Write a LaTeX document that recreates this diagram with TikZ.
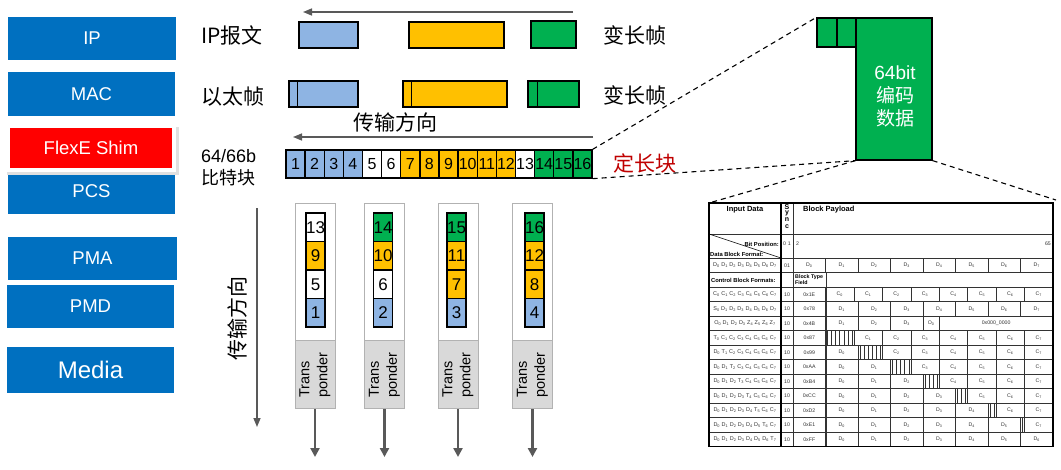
\documentclass[tikz,border=0pt]{standalone}
\usepackage{fontspec}
\setmainfont{Liberation Sans}
\newfontfamily\cjk{Noto Sans CJK SC}
\usetikzlibrary{arrows.meta}
\definecolor{stackblue}{HTML}{0070C0}
\definecolor{lblue}{HTML}{8EB4E3}
\definecolor{ylw}{HTML}{FFC000}
\definecolor{grn}{HTML}{00B050}
\definecolor{dred}{HTML}{C00000}
\definecolor{arrgray}{HTML}{595959}
\definecolor{tpgray}{HTML}{D9D9D9}
\newcommand\xs[2]{#1\textsubscript{#2}}
\newcommand\prow[3]{%
  \xdef\curbit{0}%
  \foreach \nb/\lab/\hh in {#3}{%
    \pgfmathsetmacro\xa{793+\curbit*4.0625}%
    \pgfmathsetmacro\xb{793+(\curbit+\nb)*4.0625}%
    \ifnum\hh=1
      \foreach \k in {1,...,\nb}{\draw[tline] ({\xa+(\k-0.5)*4.0625},#1) -- ({\xa+(\k-0.5)*4.0625},#2);}%
    \else
      \node[tcell] at ({(\xa+\xb)/2},{(#1+#2)/2}) {\lab};%
    \fi
    \draw[tline] (\xb,#1) -- (\xb,#2);%
    \pgfmathsetmacro\tmp{\curbit+\nb}\xdef\curbit{\tmp}%
  }}
\begin{document}
\begin{tikzpicture}[x=1pt,y=-1pt,
  layer/.style={fill=stackblue, text=white, inner sep=0pt, font=\fontsize{18.5}{20}\selectfont},
  cjkt/.style={font=\cjk\fontsize{21}{24}\selectfont, inner sep=0pt},
  fbox/.style={draw=black, line width=1.3pt, inner sep=0pt},
  blk/.style={draw=black, line width=1.3pt, inner sep=0pt, font=\fontsize{16}{16}\selectfont, minimum width=19.125pt, minimum height=28pt},
  tpc/.style={draw=black, line width=1.5pt, inner sep=0pt, font=\fontsize{17}{17}\selectfont, minimum width=19pt, minimum height=28.5pt},
  flow/.style={draw=arrgray, line width=1.5pt, -{Triangle[length=9pt,width=7pt]}},
  bigflow/.style={draw=arrgray, line width=2.5pt, -{Triangle[length=9pt,width=9pt]}},
  zoomline/.style={draw=black, line width=1.1pt, dash pattern=on 5pt off 4pt},
  tline/.style={draw=black!80, line width=0.5pt},
  tcell/.style={inner sep=0pt, font=\fontsize{5.2}{5.7}\selectfont, text=black!80},
  tin/.style={inner sep=0pt, font=\fontsize{5.5}{6}\selectfont, text=black!80},
  thead/.style={inner sep=0pt, font=\bfseries\fontsize{7.5}{8}\selectfont},
  tbold/.style={inner sep=0pt, font=\bfseries\fontsize{5.8}{6.2}\selectfont, align=left},
  syncl/.style={inner sep=0pt, font=\bfseries\fontsize{7}{7}\selectfont},
]
\useasboundingbox (0,0) rectangle (1061,469);
\fill[white] (0,0) rectangle (1061,469);

% ---------- left protocol stack ----------
\node[layer, minimum width=168pt, minimum height=43pt] (ip) at (92,38.5) {IP};
\node[layer, minimum width=167pt, minimum height=44pt] (mac) at (91.5,94) {MAC};
\node[layer, minimum width=167pt, minimum height=46pt] (pcs) at (91.5,191) {PCS};
\fill[black!12] (7,127) rectangle (179,175);
\fill[white] (5,125) rectangle (176,172);
\node[layer, fill=red, minimum width=162pt, minimum height=40pt] (shim) at (91,148) {FlexE Shim};
\node[layer, minimum width=169pt, minimum height=43pt] (pma) at (92.5,258.5) {PMA};
\node[layer, minimum width=167pt, minimum height=43pt] (pmd) at (90.5,306.5) {PMD};
\node[layer, minimum width=167pt, minimum height=46pt, font=\fontsize{24}{26}\selectfont] (media) at (90.5,370) {Media};

% ---------- IP packets ----------
\coordinate (a1s) at (573,12);
\coordinate (a1e) at (303,12);
\draw[flow] (a1s) -- (a1e);
\node[cjkt, anchor=west] (iplbl) at (201,35) {IP报文};
\node[fbox, fill=lblue, minimum width=59pt, minimum height=26pt] (p1) at (328.5,35) {};
\node[fbox, fill=ylw, minimum width=95pt, minimum height=26pt] (p2) at (456.5,35) {};
\node[fbox, fill=grn, minimum width=45pt, minimum height=27pt] (p3) at (553.5,34.5) {};
\node[cjkt, anchor=west] (var1) at (603,35) {变长帧};

% ---------- Ethernet frames ----------
\node[cjkt, anchor=west] (ethlbl) at (201,97) {以太帧};
\node[fbox, fill=lblue, minimum width=69pt, minimum height=26pt] (e1) at (323.5,94) {};
\draw[line width=1.3pt] ([xshift=9pt]e1.north west) -- ([xshift=9pt]e1.south west);
\node[fbox, fill=ylw, minimum width=104pt, minimum height=26pt] (e2) at (455,94) {};
\draw[line width=1.3pt] ([xshift=9pt]e2.north west) -- ([xshift=9pt]e2.south west);
\node[fbox, fill=grn, minimum width=51pt, minimum height=26pt] (e3) at (553.5,94) {};
\draw[line width=1.3pt] ([xshift=10pt]e3.north west) -- ([xshift=10pt]e3.south west);
\node[cjkt, anchor=west] (var2) at (603,95) {变长帧};

\node[cjkt] (dir1) at (395,122) {传输方向};
\coordinate (a2s) at (593,137);
\coordinate (a2e) at (293,137);
\draw[flow] (a2s) -- (a2e);

% ---------- 64/66b blocks ----------
\node[inner sep=0pt, anchor=west, font=\fontsize{18}{18}\selectfont] (l6466) at (201,156) {64/66b};
\node[inner sep=0pt, anchor=west, font=\cjk\fontsize{18}{18}\selectfont] (lbit) at (201,177.5) {比特块};
\foreach \i/\c in {1/lblue,2/lblue,3/lblue,4/lblue,5/white,6/white,7/ylw,8/ylw,9/ylw,10/ylw,11/ylw,12/ylw,13/white,14/grn,15/grn,16/grn}
  \node[blk, fill=\c] (b\i) at ({286+(\i-0.5)*19.125},164) {\i};
\node[cjkt, text=dred] (fixed) at (645,163) {定长块};

% ---------- zoomed 66b block ----------
\node[draw=black, line width=1.3pt, fill=grn, minimum width=76pt, minimum height=142pt, inner sep=0pt] (big) at (894,89) {};
\node[draw=black, line width=1.3pt, fill=grn, minimum width=20pt, minimum height=29pt, inner sep=0pt] (sm1) at (827,32.5) {};
\node[draw=black, line width=1.3pt, fill=grn, minimum width=19pt, minimum height=29pt, inner sep=0pt] (sm2) at (846.5,32.5) {};
\node[text=white, align=center, inner sep=0pt, font=\fontsize{19}{23}\selectfont] (bigtxt) at (895,96) {64bit\\{\cjk 编码}\\{\cjk 数据}};

\coordinate (tbltl) at (709,203);
\coordinate (tbltr) at (1056,200);
\draw[zoomline] (b16.north east) -- (sm1.north west);
\draw[zoomline] (b16.south east) -- (big.south west);
\draw[zoomline] (big.south west) -- (tbltl);
\draw[zoomline] (big.south east) -- (tbltr);

% ---------- vertical direction ----------
\coordinate (vs) at (257,208);
\coordinate (ve) at (257,427);
\draw[flow] (vs) -- (ve);
\node[cjkt, rotate=90] (dir2) at (237,318) {传输方向};

% ---------- transponders ----------
\foreach \k/\x/\cx/\va/\ca/\vb/\cb/\vc/\cc/\vd/\cd in {1/315/315.5/13/white/9/ylw/5/white/1/lblue, 2/384.5/383/14/grn/10/ylw/6/white/2/lblue, 3/458/456.5/15/grn/11/ylw/7/ylw/3/lblue, 4/532.5/534.5/16/grn/12/ylw/8/ylw/4/lblue}{
  \node[draw=black!30, line width=0.8pt, fill=white, minimum width=40pt, minimum height=137pt, inner sep=0pt] (tb\k) at (\x,271.5) {};
  \node[draw=black!30, line width=0.8pt, fill=tpgray, minimum width=40pt, minimum height=68pt, inner sep=0pt, anchor=north] (tg\k) at (tb\k.south) {};
  \node[inner sep=0pt, rotate=90, align=left, font=\fontsize{14.5}{18}\selectfont] (tt\k) at (tg\k.center) {Trans\\ponder};
  \node[tpc, fill=\ca] (ca\k) at (\cx,227.25) {\va};
  \node[tpc, fill=\cb] (cb\k) at (\cx,255.75) {\vb};
  \node[tpc, fill=\cc] (cc\k) at (\cx,284.25) {\vc};
  \node[tpc, fill=\cd] (cd\k) at (\cx,312.75) {\vd};
  \coordinate (out\k) at (\x,457);
  \draw[bigflow] (tg\k.south) -- (out\k);
}

% ---------- 64b/66b block format table ----------
\fill[white] (709,203) rectangle (1053,446.5);
\foreach \yy in {234,258,272.5,287,301.5,316,330.5,345,359.5,374,388.5,403,417.5,432}
  \draw[tline, line width=0.7pt] (709,\yy) -- (1053,\yy);
\draw[tline] (793,203) -- (793,446.5);
\draw[tline] (826,272.5) -- (826,446.5);
\draw[black, line width=0.6pt] (709,234) -- (781,258);
% header
\node[thead] at (745,210) {Input Data};
\node[thead, anchor=west] at (803,210) {Block Payload};
\node[syncl] at (787,207) {S};
\node[syncl] at (787,213.5) {y};
\node[syncl] at (787,220) {n};
\node[syncl] at (787,226.5) {c};
% bit position
\node[tbold, anchor=east] at (779,244) {Bit Position:};
\node[tbold, anchor=west] at (710,254) {Data Block Format:};
\node[tcell] at (787,244) {0\,\,1};
\node[tcell, anchor=west] at (796,244) {2};
\node[tcell, anchor=east] at (1051,244) {65};
% data row
\node[tin] at (745,265.25) {\xs D0 \xs D1 \xs D2 \xs D3 \xs D4 \xs D5 \xs D6 \xs D7};
\node[tcell] at (787,265.25) {01};
\prow{258}{272.5}{8/\xs D0/0,8/\xs D1/0,8/\xs D2/0,8/\xs D3/0,8/\xs D4/0,8/\xs D5/0,8/\xs D6/0,8/\xs D7/0}
% control label row
\node[tbold, anchor=west] at (711,280) {Control Block Formats:};
\node[tbold, anchor=west, font=\bfseries\fontsize{5.3}{5.8}\selectfont] at (795,279.75) {Block Type\\Field};
% control rows
\node[tin] at (745,294.25) {\xs C0 \xs C1 \xs C2 \xs C3 \xs C4 \xs C5 \xs C6 \xs C7};
\node[tcell] at (787,294.25) {10};
\prow{287}{301.5}{8/0x1E/0,7/\xs C0/0,7/\xs C1/0,7/\xs C2/0,7/\xs C3/0,7/\xs C4/0,7/\xs C5/0,7/\xs C6/0,7/\xs C7/0}
\node[tin] at (745,308.75) {\xs S0 \xs D1 \xs D2 \xs D3 \xs D4 \xs D5 \xs D6 \xs D7};
\node[tcell] at (787,308.75) {10};
\prow{301.5}{316}{8/0x78/0,8/\xs D1/0,8/\xs D2/0,8/\xs D3/0,8/\xs D4/0,8/\xs D5/0,8/\xs D6/0,8/\xs D7/0}
\node[tin] at (745,323.25) {\xs O0 \xs D1 \xs D2 \xs D3 \xs Z4 \xs Z5 \xs Z6 \xs Z7};
\node[tcell] at (787,323.25) {10};
\prow{316}{330.5}{8/0x4B/0,8/\xs D1/0,8/\xs D2/0,8/\xs D3/0,4/\xs O0/0,28/0x000\_0000/0}
\node[tin] at (745,337.75) {\xs T0 \xs C1 \xs C2 \xs C3 \xs C4 \xs C5 \xs C6 \xs C7};
\node[tcell] at (787,337.75) {10};
\prow{330.5}{345}{8/0x87/0,7//1,7/\xs C1/0,7/\xs C2/0,7/\xs C3/0,7/\xs C4/0,7/\xs C5/0,7/\xs C6/0,7/\xs C7/0}
\node[tin] at (745,352.25) {\xs D0 \xs T1 \xs C2 \xs C3 \xs C4 \xs C5 \xs C6 \xs C7};
\node[tcell] at (787,352.25) {10};
\prow{345}{359.5}{8/0x99/0,8/\xs D0/0,6//1,7/\xs C2/0,7/\xs C3/0,7/\xs C4/0,7/\xs C5/0,7/\xs C6/0,7/\xs C7/0}
\node[tin] at (745,366.75) {\xs D0 \xs D1 \xs T2 \xs C3 \xs C4 \xs C5 \xs C6 \xs C7};
\node[tcell] at (787,366.75) {10};
\prow{359.5}{374}{8/0xAA/0,8/\xs D0/0,8/\xs D1/0,5//1,7/\xs C3/0,7/\xs C4/0,7/\xs C5/0,7/\xs C6/0,7/\xs C7/0}
\node[tin] at (745,381.25) {\xs D0 \xs D1 \xs D2 \xs T3 \xs C4 \xs C5 \xs C6 \xs C7};
\node[tcell] at (787,381.25) {10};
\prow{374}{388.5}{8/0xB4/0,8/\xs D0/0,8/\xs D1/0,8/\xs D2/0,4//1,7/\xs C4/0,7/\xs C5/0,7/\xs C6/0,7/\xs C7/0}
\node[tin] at (745,395.75) {\xs D0 \xs D1 \xs D2 \xs D3 \xs T4 \xs C5 \xs C6 \xs C7};
\node[tcell] at (787,395.75) {10};
\prow{388.5}{403}{8/0xCC/0,8/\xs D0/0,8/\xs D1/0,8/\xs D2/0,8/\xs D3/0,3//1,7/\xs C5/0,7/\xs C6/0,7/\xs C7/0}
\node[tin] at (745,410.25) {\xs D0 \xs D1 \xs D2 \xs D3 \xs D4 \xs T5 \xs C6 \xs C7};
\node[tcell] at (787,410.25) {10};
\prow{403}{417.5}{8/0xD2/0,8/\xs D0/0,8/\xs D1/0,8/\xs D2/0,8/\xs D3/0,8/\xs D4/0,2//1,7/\xs C6/0,7/\xs C7/0}
\node[tin] at (745,424.75) {\xs D0 \xs D1 \xs D2 \xs D3 \xs D4 \xs D5 \xs T6 \xs C7};
\node[tcell] at (787,424.75) {10};
\prow{417.5}{432}{8/0xE1/0,8/\xs D0/0,8/\xs D1/0,8/\xs D2/0,8/\xs D3/0,8/\xs D4/0,8/\xs D5/0,1//1,7/\xs C7/0}
\node[tin] at (745,439.25) {\xs D0 \xs D1 \xs D2 \xs D3 \xs D4 \xs D5 \xs D6 \xs T7};
\node[tcell] at (787,439.25) {10};
\prow{432}{446.5}{8/0xFF/0,8/\xs D0/0,8/\xs D1/0,8/\xs D2/0,8/\xs D3/0,8/\xs D4/0,8/\xs D5/0,8/\xs D6/0}
% outer frame and thick divider
\draw[black, line width=1.3pt] (709,203) rectangle (1053,446.5);
\draw[black, line width=1.4pt] (781,203) -- (781,446.5);
\end{tikzpicture}
\end{document}
